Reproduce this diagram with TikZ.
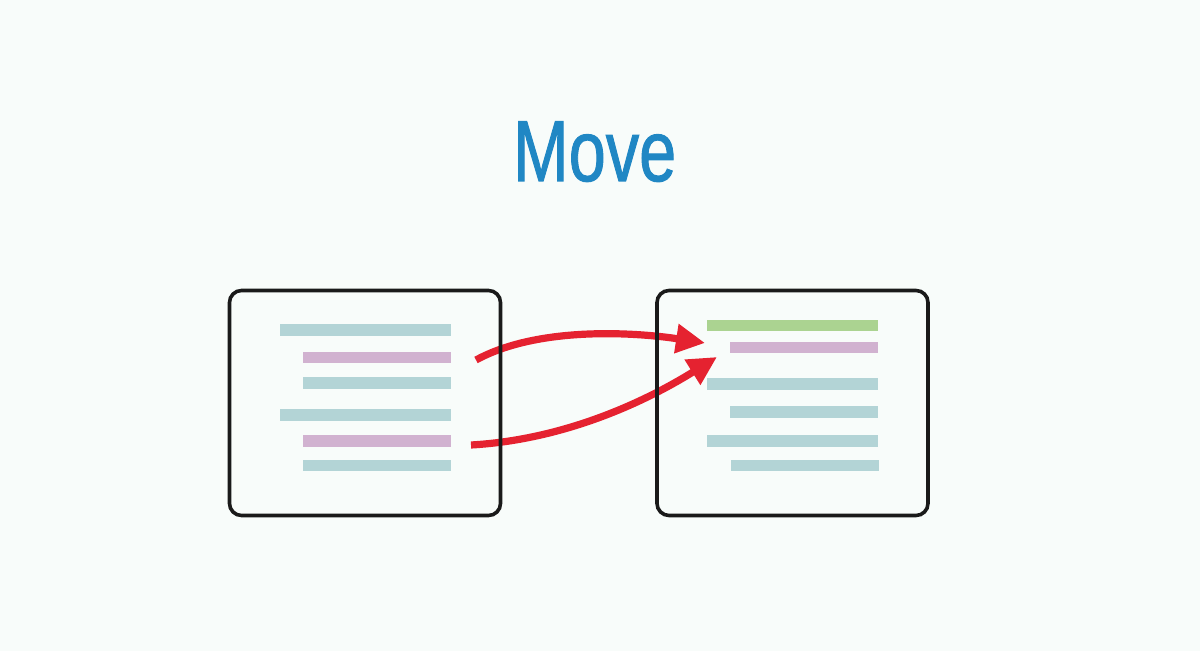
\documentclass[tikz,border=0pt]{standalone}
\usepackage{fontspec}
\setmainfont{Liberation Sans}
\newfontfamily\titlefont{Liberation Sans}[FakeBold=1.3]
\usetikzlibrary{arrows.meta}
\definecolor{bgc}{HTML}{F8FCFA}
\definecolor{titleblue}{HTML}{2087C4}
\definecolor{tealbar}{HTML}{B3D4D6}
\definecolor{purplebar}{HTML}{D1B2D0}
\definecolor{greenbar}{HTML}{ABD391}
\definecolor{arrowred}{HTML}{E52230}
\definecolor{boxline}{HTML}{1A1A1A}
\tikzset{
  panel/.style={draw=boxline, line width=1.8pt, rounded corners=6pt, minimum width=135.5pt, minimum height=112.5pt, inner sep=0pt},
  movearrow/.style={draw=arrowred, line width=3.6pt, -{Triangle[length=14.5pt,width=14pt]}},
}
\begin{document}
\begin{tikzpicture}[x=0.5pt,y=-0.5pt]
\useasboundingbox[fill=bgc] (0,0) rectangle (1200,651);
\node[anchor=base, text=titleblue, xscale=0.77, inner sep=0pt, font=\titlefont\fontsize{43.3}{50}\selectfont] (title) at (594.7,181) {Move};
% left bars
\fill[tealbar]   (280,324) rectangle (451,336);
\fill[purplebar] (303,352) rectangle (451,363);
\fill[tealbar]   (303,377) rectangle (451,389);
\fill[tealbar]   (280,409) rectangle (451,421);
\fill[purplebar] (303,435) rectangle (451,447);
\fill[tealbar]   (303,460) rectangle (451,471);
% right bars
\fill[greenbar]  (707,320) rectangle (878,331);
\fill[purplebar] (730,342) rectangle (878,353);
\fill[tealbar]   (707,378) rectangle (878,390);
\fill[tealbar]   (730,406) rectangle (878,418);
\fill[tealbar]   (707,435) rectangle (878,447);
\fill[tealbar]   (731,460) rectangle (879,471);
% arrows
\coordinate (s1) at (476,360);
\coordinate (e1) at (705,343);
\coordinate (s2) at (471,445);
\coordinate (e2) at (717,357);
\draw[movearrow] (s1) .. controls (540,325) and (640,333) .. (e1);
\draw[movearrow] (s2) .. controls (560,440) and (640,405) .. (e2);
% boxes on top
\node[panel] (left) at (365,403) {};
\node[panel] (right) at (792.5,403) {};
\end{tikzpicture}
\end{document}
